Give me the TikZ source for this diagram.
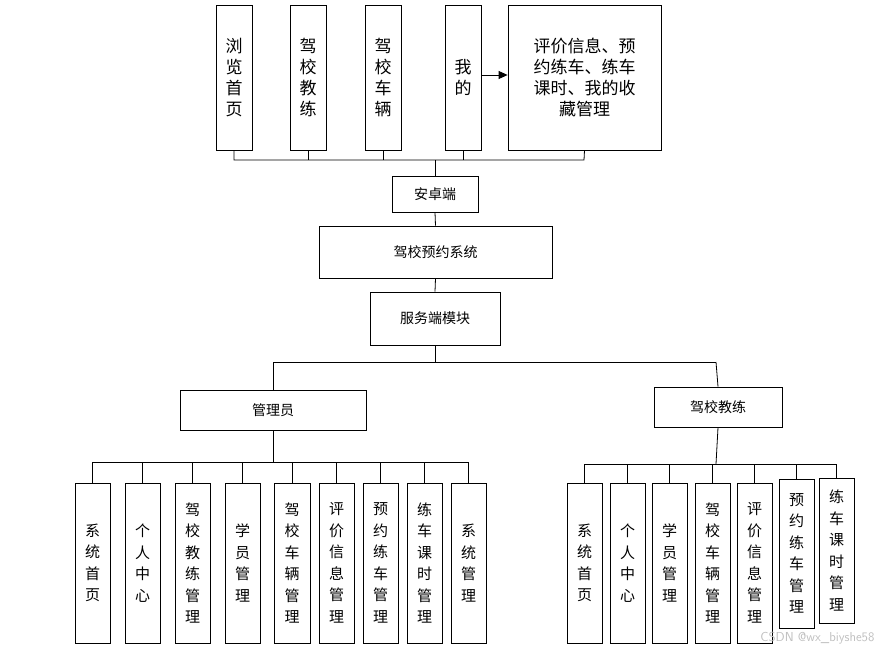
\documentclass[tikz,border=0pt]{standalone}
\usepackage{fontspec}
\newfontfamily\cjk{Noto Sans CJK SC}
\usetikzlibrary{arrows.meta}
\tikzset{bx/.style={draw,thick,inner sep=0pt,font=\cjk\fontsize{17}{21}\selectfont,align=center},
 sb/.style={bx,font=\cjk\fontsize{15}{21.5}\selectfont},
 mb/.style={bx,font=\cjk\fontsize{14}{17}\selectfont},
 ln/.style={thick}}
\newcommand{\bbox}[7]{\node[#7,minimum width=#4-#2,minimum height=#5-#3] (#1) at ({(#2+#4)/2},{(#3+#5)/2}) {#6};}
\begin{document}
\begin{tikzpicture}[x=1pt,y=-1pt]
\useasboundingbox (0,0) rectangle (880,653);
\bbox{t1}{216}{5}{252}{150}{浏\\览\\首\\页}{bx}
\bbox{t2}{290}{5}{326}{150}{驾\\校\\教\\练}{bx}
\bbox{t3}{365}{5}{401}{150}{驾\\校\\车\\辆}{bx}
\bbox{t4}{445}{5}{481}{150}{我\\的}{bx}
\bbox{t5}{508}{5}{661}{150}{评价信息、预\\约练车、练车\\课时、我的收\\藏管理}{bx}
\draw[ln,-{Triangle[length=9pt,width=8pt]}] (481,75) -- (t5.west|-0,75);
\bbox{az}{392}{176}{478}{212}{安卓端}{mb}
\bbox{sys}{319}{226}{552}{278}{驾校预约系统}{mb}
\bbox{srv}{370}{292}{500}{345}{服务端模块}{mb}
\coordinate (busT) at (435,160);
\draw[ln] (t1.south) -- (234,160) -- (584,160) -- (t5.south);
\foreach \n in {t2,t3,t4} \draw[ln] (\n.south) -- (\n.south|-busT);
\draw[ln] (busT) -- (az.north);
\draw[ln] (az.south) -- (sys.north);
\draw[ln] (sys.south) -- (srv.north);
\bbox{adm}{180}{390}{366}{430}{管理员}{mb}
\bbox{coach}{654}{387}{782}{427}{驾校教练}{mb}
\draw[ln] (srv.south) -- (435,362);
\draw[ln] (273,362) -- (716,362);
\draw[ln] (273,362) -- (adm.north -| 273,0);
\draw[ln] (716,362) -- (coach.north);
% left
\bbox{l1}{75}{483}{110}{643}{系\\统\\首\\页}{sb}
\bbox{l2}{125}{483}{160}{643}{个\\人\\中\\心}{sb}
\bbox{l3}{175}{483}{210}{643}{驾\\校\\教\\练\\管\\理}{sb}
\bbox{l4}{225}{483}{260}{643}{学\\员\\管\\理}{sb}
\bbox{l5}{274}{483}{310}{643}{驾\\校\\车\\辆\\管\\理}{sb}
\bbox{l6}{319}{483}{354}{643}{评\\价\\信\\息\\管\\理}{sb}
\bbox{l7}{363}{483}{398}{643}{预\\约\\练\\车\\管\\理}{sb}
\bbox{l8}{407}{483}{442}{643}{练\\车\\课\\时\\管\\理}{sb}
\bbox{l9}{451}{483}{486}{643}{系\\统\\管\\理}{sb}
\draw[ln] (adm.south -| 273,0) -- (273,462);
\draw[ln] (l1.north|-0,462) -- (l9.north|-0,462);
\foreach \n in {l1,l2,l3,l4,l5,l6,l7,l8,l9} \draw[ln] (\n.north|-0,462) -- (\n.north);
% right
\bbox{r1}{567}{483}{602}{643}{系\\统\\首\\页}{sb}
\bbox{r2}{610}{483}{645}{643}{个\\人\\中\\心}{sb}
\bbox{r3}{652}{483}{687}{643}{学\\员\\管\\理}{sb}
\bbox{r4}{695}{483}{730}{643}{驾\\校\\车\\辆\\管\\理}{sb}
\bbox{r5}{737}{483}{772}{643}{评\\价\\信\\息\\管\\理}{sb}
\bbox{r6}{779}{479}{814}{628}{预\\约\\练\\车\\管\\理}{sb}
\bbox{r7}{819}{478}{854}{623}{练\\车\\课\\时\\管\\理}{sb}
\draw[ln] (coach.south) -- (716,464);
\draw[ln] (r1.north|-0,464) -- (r7.north|-0,464);
\foreach \n in {r1,r2,r3,r4,r5,r6,r7} \draw[ln] (\n.north|-0,464) -- (\n.north);
\node[anchor=east,text=black!25,font=\fontsize{13}{14}\selectfont\sffamily] (wm) at (878,638) {CSDN @wx\_biyshe58};
\end{tikzpicture}
\end{document}
